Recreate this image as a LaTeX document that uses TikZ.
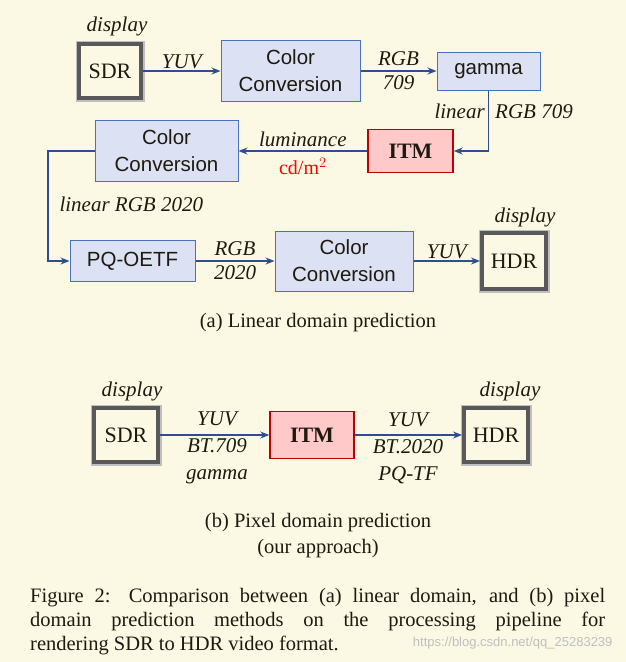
\documentclass[tikz,border=0pt]{standalone}
\usepackage{fontspec}
\setmainfont{Liberation Serif}
\newfontfamily\sansf{Liberation Sans}
\usetikzlibrary{arrows.meta}
\definecolor{bg}{HTML}{FBF8E4}
\definecolor{bfill}{HTML}{DCE2F4}
\definecolor{bdraw}{HTML}{4A70C0}
\definecolor{arr}{HTML}{2E4E90}
\definecolor{rfill}{HTML}{FFC9C9}
\definecolor{rdraw}{HTML}{C00000}
\definecolor{txt}{HTML}{1E1A10}
\begin{document}
\begin{tikzpicture}[x=1pt,y=-1pt,
  every node/.style={text=txt},
  disp/.style={draw=black!65, line width=4pt, fill=bg, preaction={draw=black!25, line width=7pt}, inner sep=0pt, font=\fontsize{22}{24}\selectfont},
  blue/.style={draw=bdraw, fill=bfill, line width=1pt, inner sep=0pt, align=center, font=\sansf\fontsize{20.5}{27}\selectfont},
  red/.style={draw=rdraw, fill=rfill, line width=1.5pt, inner sep=0pt, font=\bfseries\fontsize{22}{24}\selectfont},
  lab/.style={font=\itshape\fontsize{21}{25}\selectfont, align=center},
  ar/.style={draw=arr, line width=1.2pt, -{Stealth[length=9pt,width=7pt]}}]
\useasboundingbox (0,0) rectangle (626,662);
\fill[bg] (0,0) rectangle (626,662);
% (a)
\node[disp, minimum width=62pt, minimum height=54pt] (sdr) at (110,71) {SDR};
\node[lab] (d1) at (117,26) {display};
\node[blue, minimum width=139pt, minimum height=61pt] (cc1) at (290.5,71) {Color\\Conversion};
\node[blue, minimum width=103pt, minimum height=38pt] (gam) at (488.5,71) {gamma};
\node[red, minimum width=85pt, minimum height=43pt] (itm) at (410.5,151) {ITM};
\node[blue, minimum width=143pt, minimum height=61pt] (cc2) at (166.5,151) {Color\\Conversion};
\node[blue, minimum width=125pt, minimum height=41pt] (pq) at (132.5,261) {PQ-OETF};
\node[blue, minimum width=138pt, minimum height=60pt] (cc3) at (344,261) {Color\\Conversion};
\node[disp, minimum width=64pt, minimum height=56pt] (hdr) at (514,261) {HDR};
\node[lab] (d2) at (525,217) {display};
\draw[ar] (sdr.east) -- node[lab, above, yshift=-2pt] {YUV} (cc1.west);
\draw[ar] (cc1.east) -- node[lab, font=\itshape\fontsize{21}{25}\selectfont] {RGB\\[-1pt]709} (gam.west);
\draw[ar] (gam.south) |- (itm.east);
\node[lab, anchor=west] at (431,111) {linear\enspace RGB 709};
\draw[ar] (itm.west) -- node[lab, above, yshift=0pt] {luminance} node[below, text=red, font=\fontsize{20}{22}\selectfont, yshift=-3pt] {cd/m$^2$} (cc2.east);
\coordinate (c1) at (48,151);
\draw[ar] (cc2.west) -- (c1) |- (pq.west);
\node[lab, anchor=west] at (56,204) {linear RGB 2020};
\draw[ar] (pq.east) -- node[lab, font=\itshape\fontsize{21}{25}\selectfont] {RGB\\[-1pt]2020} (cc3.west);
\draw[ar] (cc3.east) -- node[lab, above, yshift=-2pt] {YUV} (hdr.west);
\node[font=\fontsize{20.5}{24}\selectfont] (ca) at (318,323) {(a) Linear domain prediction};
% (b)
\node[disp, minimum width=64pt, minimum height=54pt] (sdr2) at (126,435) {SDR};
\node[lab] (d3) at (132,391) {display};
\node[red, minimum width=84pt, minimum height=47pt] (itm2) at (312,435) {ITM};
\node[disp, minimum width=64pt, minimum height=54pt] (hdr2) at (496,435) {HDR};
\node[lab] (d4) at (510,391) {display};
\draw[ar] (sdr2.east) -- (itm2.west);
\node[lab, font=\itshape\fontsize{21}{27}\selectfont] at (217,448) {YUV\\BT.709\\gamma};
\draw[ar] (itm2.east) -- (hdr2.west);
\node[lab, font=\itshape\fontsize{21}{27}\selectfont] at (408,448) {YUV\\BT.2020\\PQ-TF};
\node[font=\fontsize{20.5}{26}\selectfont, align=center] (cb) at (318,536) {(b) Pixel domain prediction\\(our approach)};
% caption
\node[anchor=west, inner sep=0pt, font=\fontsize{20.5}{22}\selectfont] (l1) at (30,598) {\makebox[575pt][s]{Figure 2: Comparison between (a) linear domain, and (b) pixel}};
\node[anchor=west, inner sep=0pt, font=\fontsize{20.5}{22}\selectfont] (l2) at (30,621) {\makebox[575pt][s]{domain prediction methods on the processing pipeline for}};
\node[anchor=west, inner sep=0pt, font=\fontsize{20.5}{22}\selectfont] (l3) at (30,645) {rendering SDR to HDR video format.};
\node[anchor=east, text=black!25, font=\sansf\fontsize{13}{15}\selectfont] (wm) at (616,643) {https://blog.csdn.net/qq\_25283239};
\end{tikzpicture}
\end{document}
